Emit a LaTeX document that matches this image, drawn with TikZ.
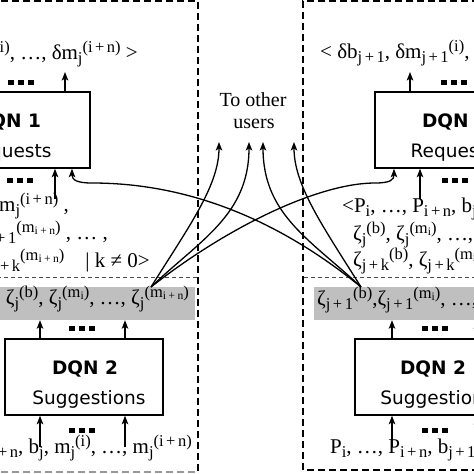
\documentclass[tikz,border=0pt]{standalone}
\usepackage{fontspec}
\setmainfont{Liberation Serif}
\newfontfamily\dqnfont{DejaVu Sans}
\usetikzlibrary{arrows.meta}
\newcommand\lsub[1]{\raisebox{-4pt}{\fontsize{16.5}{16.5}\selectfont #1}}
\newcommand\lsup[1]{\raisebox{7pt}{\fontsize{16.5}{16.5}\selectfont #1}}
\newcommand\lssub[1]{\raisebox{-2.5pt}{\fontsize{11.5}{11.5}\selectfont #1}}
\newcommand\plusop{\kern2.5pt+\kern2.5pt}
\newcommand\dotsq{\rule{5.5pt}{5pt}\hspace{4.5pt}\rule{5.5pt}{5pt}\hspace{4.5pt}\rule{5.5pt}{5pt}}
\begin{document}
\begin{tikzpicture}[x=1pt,y=-1pt,
  mtext/.style={font=\fontsize{21}{24}\selectfont, inner sep=0pt},
  otext/.style={font=\fontsize{20}{24}\selectfont, inner sep=0pt, anchor=base},
  qbox/.style={draw, line width=1.5pt, minimum width=160pt, minimum height=76pt, inner sep=0pt},
  qtitle/.style={font=\dqnfont\bfseries\fontsize{18.5}{20}\selectfont, inner sep=0pt, anchor=base},
  qsub/.style={font=\dqnfont\fontsize{18.5}{20}\selectfont, inner sep=0pt, anchor=base},
  arr/.style={line width=1.3pt, -{Stealth[length=8.5pt,width=6.5pt,inset=2pt]}},
  outer/.style={line width=1.8pt, dash pattern=on 7pt off 4pt},
  inner/.style={line width=0.9pt, black!70, dash pattern=on 4pt off 3pt},
  band/.style={fill=black!25, draw=none, inner sep=0pt, minimum height=33pt},
  dotrow/.style={inner sep=0pt}
]
\useasboundingbox (0,0) rectangle (474,474);

% frames
\draw[outer] (-10,1) -- (198,1) -- (198,472);
\draw[outer, black!40] (-10,472) -- (196,472);
\draw[outer] (490,1) -- (303,1) -- (303,470) -- (490,470);
\draw[inner] (-10,277) -- (197,277);
\draw[inner] (304,277) -- (490,277);

% grey bands
\node[band, minimum width=205pt] (lband) at (92.5,303.5) {};
\node[band, minimum width=170pt] (rband) at (399,303.5) {};

% boxes
\node[qbox, minimum width=162pt] (lq1) at (9,130) {};
\node[qbox] (rq1) at (455,130) {};
\node[qbox, minimum width=158pt] (lq2) at (84,377) {};
\node[qbox] (rq2) at (435,377) {};

\node[qtitle] (lq1t) at (8,127) {DQN 1};
\node[qsub] (lq1s) at (9,157) {Requests};
\node[qtitle] (rq1t) at (455,127) {DQN 1};
\node[qsub] (rq1s) at (453,157) {Requests};
\node[qtitle] (lq2t) at (85,374) {DQN 2};
\node[qsub] (lq2s) at (89,404) {Suggestions};
\node[qtitle] (rq2t) at (433,374) {DQN 2};
\node[qsub] (rq2s) at (437,404) {Suggestions};

% dots
\node[dotrow] (d1) at (21,82) {\dotsq};
\node[dotrow] (d2) at (454,82) {\dotsq};
\node[dotrow] (d3) at (20,180) {\dotsq};
\node[dotrow] (d4) at (455,180) {\dotsq};
\node[dotrow] (d5) at (82,328) {\dotsq};
\node[dotrow] (d6) at (82,430) {\dotsq};
\node[dotrow] (d7) at (435,328) {\dotsq};
\node[dotrow] (d8) at (435,430) {\dotsq};

% texts
\node[mtext, anchor=base east] (ltop) at (138,59) {< δb\lsub{j}, δm\lsub{j}\lsup{(i)}, …, δm\lsub{j}\lsup{(i\plusop n)} >};
\node[mtext, anchor=base west] (rtop) at (320,58) {< δb\lsub{j\plusop 1}, δm\lsub{j\plusop 1}\lsup{(i)}, …, δm\lsub{j\plusop 1}\lsup{(i\plusop n)} >};

\node[mtext, anchor=base east] (lin1) at (69,211) {<P\lsub{i}, …, P\lsub{i\plusop n}, b\lsub{j}, m\lsub{j}\lsup{(i)}, …, m\lsub{j}\lsup{(i\plusop n)} ,};
\node[mtext, anchor=base east] (lin2) at (108,239) {ζ\lsub{j\plusop 1}\lsup{(b)}, ζ\lsub{j\plusop 1}\lsup{(m\lssub{i})}, …, ζ\lsub{j\plusop 1}\lsup{(m\lssub{i\plusop n})} , … ,};
\node[mtext, anchor=base east] (lin3) at (150,267) {ζ\lsub{j\plusop k}\lsup{(b)}, ζ\lsub{j\plusop k}\lsup{(m\lssub{i})}, …, ζ\lsub{j\plusop k}\lsup{(m\lssub{i\plusop n})}\quad | k ≠ 0>};

\node[mtext, anchor=base west] (rin1) at (342,212) {<P\lsub{i}, …, P\lsub{i\plusop n}, b\lsub{j\plusop 1}, m\lsub{j\plusop 1}\lsup{(i)}, …, m\lsub{j\plusop 1}\lsup{(i\plusop n)} ,};
\node[mtext, anchor=base west] (rin2) at (353,240) {ζ\lsub{j}\lsup{(b)}, ζ\lsub{j}\lsup{(m\lssub{i})}, …, ζ\lsub{j}\lsup{(m\lssub{i\plusop n})} , … ,};
\node[mtext, anchor=base west] (rin3) at (353,266) {ζ\lsub{j\plusop k}\lsup{(b)}, ζ\lsub{j\plusop k}\lsup{(m\lssub{i})}, …, ζ\lsub{j\plusop k}\lsup{(m\lssub{i\plusop n})}\quad | k ≠ 0>};

\node[mtext, anchor=base east] (lbt) at (189,304) {ζ\lsub{j}\lsup{(b)}, ζ\lsub{j}\lsup{(m\lssub{i})}, …, ζ\lsub{j}\lsup{(m\lssub{i\plusop n})}};
\node[mtext, anchor=base west] (rbt) at (317,305) {ζ\lsub{j\plusop 1}\lsup{(b)},ζ\lsub{j\plusop 1}\lsup{(m\lssub{i})}, …, ζ\lsub{j\plusop 1}\lsup{(m\lssub{i\plusop n})}};

\node[mtext, anchor=base east] (lbot) at (192,453) {P\lsub{i}, …, P\lsub{i\plusop n}, b\lsub{j}, m\lsub{j}\lsup{(i)}, …, m\lsub{j}\lsup{(i\plusop n)}};
\node[mtext, anchor=base west] (rbot) at (330,453) {P\lsub{i}, …, P\lsub{i\plusop n}, b\lsub{j\plusop 1}, m\lsub{j\plusop 1}\lsup{(i)}, …, m\lsub{j\plusop 1}\lsup{(i\plusop n)}};

\node[otext] (oth1) at (253,106) {To other};
\node[otext] (oth2) at (254,128) {users};

% x positions for arrows
\coordinate (xa) at (65,0);
\coordinate (xb) at (410,0);
\coordinate (xc) at (55,0);
\coordinate (xd) at (72,0);
\coordinate (xe) at (420,0);
\coordinate (xf) at (394,0);
\coordinate (xg) at (40,0);
\coordinate (xh) at (125,0);
\coordinate (xi) at (392,0);
\coordinate (xj) at (477,0);

\coordinate (ta) at (65,72);
\coordinate (tb) at (410,72);
\coordinate (sc) at (55,199);
\coordinate (se) at (420,199);
\coordinate (bl) at (40,447);
\coordinate (bh) at (125,447);
\coordinate (bi) at (392,447);
\coordinate (bj) at (477,447);

% straight arrows
\draw[arr] (lq1.north -| xa) -- (ta);
\draw[arr] (rq1.north -| xb) -- (tb);
\draw[arr] (sc) -- (lq1.south -| xc);
\draw[arr] (se) -- (rq1.south -| xe);
\draw[arr] (lq2.north -| xg) -- (lband.south -| xg);
\draw[arr] (lq2.north -| xh) -- (lband.south -| xh);
\draw[arr] (rq2.north -| xi) -- (rband.south -| xi);
\draw[arr] (rq2.north -| xj) -- (rband.south -| xj);
\draw[arr] (bl) -- (lq2.south -| xg);
\draw[arr] (bh) -- (lq2.south -| xh);
\draw[arr] (bi) -- (rq2.south -| xi);
\draw[arr] (bj) -- (rq2.south -| xj);

% curved links
\coordinate (lsrc) at (151,287);
\coordinate (rsrc) at (361,287);
\coordinate (u1) at (219,142);
\coordinate (u2) at (249,142);
\coordinate (u3) at (263,142);
\coordinate (u4) at (294,142);
\draw[arr] (lsrc) .. controls (190,225) and (219,185) .. (u1);
\draw[arr] (lsrc) .. controls (200,240) and (249,215) .. (u2);
\draw[arr] (rsrc) .. controls (311,240) and (263,215) .. (u3);
\draw[arr] (rsrc) .. controls (322,225) and (294,185) .. (u4);
\draw[arr] (lsrc) .. controls (230,225) and (320,183) .. (375,183) .. controls (390,183) and (394,180) .. (rq1.south -| xf);
\draw[arr] (rsrc) .. controls (285,225) and (195,183) .. (92,183) .. controls (77,183) and (72,180) .. (lq1.south -| xd);
\end{tikzpicture}
\end{document}
